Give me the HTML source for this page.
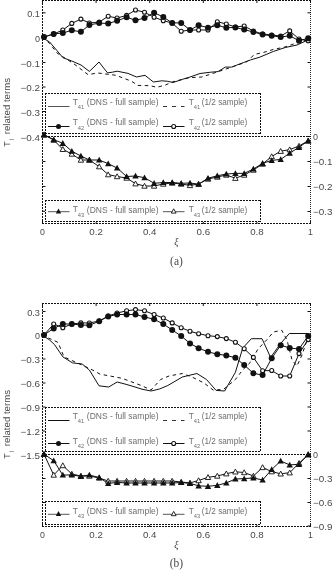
<!DOCTYPE html>
<html><head><meta charset="utf-8"><title>T_i related terms</title>
<style>
html,body{margin:0;padding:0;background:#fff;}
body{width:332px;height:570px;overflow:hidden;}
svg{display:block;font-family:"Liberation Sans",Arial,sans-serif;}
</style></head><body>
<svg width="332" height="570" viewBox="0 0 332 570">
<rect width="332" height="570" fill="#fff"/>
<line x1="42" y1="0.5" x2="311" y2="0.5" stroke="#111" stroke-width="1" stroke-dasharray="2 1"/><line x1="42" y1="223.5" x2="311" y2="223.5" stroke="#111" stroke-width="1" stroke-dasharray="2 1"/><line x1="42.5" y1="0" x2="42.5" y2="224" stroke="#111" stroke-width="1" stroke-dasharray="2 1"/><line x1="310.5" y1="0" x2="310.5" y2="224" stroke="#222" stroke-width="1" stroke-dasharray="1 1"/><line x1="42" y1="136.5" x2="311" y2="136.5" stroke="#111" stroke-width="1" stroke-dasharray="2 1"/><line x1="42.5" y1="12.8" x2="45.5" y2="12.8" stroke="#111" stroke-width="1"/><text x="40" y="16.8" text-anchor="end" font-size="9" fill="#4a4a4a" textLength="12.8" lengthAdjust="spacingAndGlyphs">0.1</text><line x1="42.5" y1="37.5" x2="45.5" y2="37.5" stroke="#111" stroke-width="1"/><text x="40" y="41.5" text-anchor="end" font-size="9" fill="#4a4a4a">0</text><line x1="42.5" y1="62.5" x2="45.5" y2="62.5" stroke="#111" stroke-width="1"/><text x="40" y="66.5" text-anchor="end" font-size="9" fill="#4a4a4a" textLength="19.5" lengthAdjust="spacingAndGlyphs">&#8722;0.1</text><line x1="42.5" y1="87" x2="45.5" y2="87" stroke="#111" stroke-width="1"/><text x="40" y="91" text-anchor="end" font-size="9" fill="#4a4a4a" textLength="19.5" lengthAdjust="spacingAndGlyphs">&#8722;0.2</text><line x1="42.5" y1="111.5" x2="45.5" y2="111.5" stroke="#111" stroke-width="1"/><text x="40" y="115.5" text-anchor="end" font-size="9" fill="#4a4a4a" textLength="19.5" lengthAdjust="spacingAndGlyphs">&#8722;0.3</text><line x1="42.5" y1="136.5" x2="45.5" y2="136.5" stroke="#111" stroke-width="1"/><text x="40" y="140.5" text-anchor="end" font-size="9" fill="#4a4a4a" textLength="19.5" lengthAdjust="spacingAndGlyphs">&#8722;0.4</text><line x1="42.5" y1="161.5" x2="45.5" y2="161.5" stroke="#111" stroke-width="1"/><line x1="42.5" y1="186.5" x2="45.5" y2="186.5" stroke="#111" stroke-width="1"/><line x1="42.5" y1="211.3" x2="45.5" y2="211.3" stroke="#111" stroke-width="1"/><line x1="307.5" y1="12.8" x2="310.5" y2="12.8" stroke="#111" stroke-width="1"/><line x1="307.5" y1="37.5" x2="310.5" y2="37.5" stroke="#111" stroke-width="1"/><line x1="307.5" y1="62.5" x2="310.5" y2="62.5" stroke="#111" stroke-width="1"/><line x1="307.5" y1="87" x2="310.5" y2="87" stroke="#111" stroke-width="1"/><line x1="307.5" y1="111.5" x2="310.5" y2="111.5" stroke="#111" stroke-width="1"/><line x1="307.5" y1="136.5" x2="310.5" y2="136.5" stroke="#111" stroke-width="1"/><text x="313" y="140.1" text-anchor="start" font-size="9" fill="#4a4a4a">0</text><line x1="307.5" y1="161.5" x2="310.5" y2="161.5" stroke="#111" stroke-width="1"/><text x="313" y="165.1" text-anchor="start" font-size="9" fill="#4a4a4a" textLength="19.5" lengthAdjust="spacingAndGlyphs">&#8722;0.1</text><line x1="307.5" y1="186.5" x2="310.5" y2="186.5" stroke="#111" stroke-width="1"/><text x="313" y="190.1" text-anchor="start" font-size="9" fill="#4a4a4a" textLength="19.5" lengthAdjust="spacingAndGlyphs">&#8722;0.2</text><line x1="307.5" y1="211.5" x2="310.5" y2="211.5" stroke="#111" stroke-width="1"/><text x="313" y="215.1" text-anchor="start" font-size="9" fill="#4a4a4a" textLength="19.5" lengthAdjust="spacingAndGlyphs">&#8722;0.3</text><line x1="42.5" y1="0" x2="42.5" y2="3" stroke="#111" stroke-width="1"/><line x1="42.5" y1="224" x2="42.5" y2="221" stroke="#111" stroke-width="1"/><text x="42.5" y="235.3" text-anchor="middle" font-size="8.8" fill="#4a4a4a">0</text><line x1="96.1" y1="0" x2="96.1" y2="3" stroke="#111" stroke-width="1"/><line x1="96.1" y1="224" x2="96.1" y2="221" stroke="#111" stroke-width="1"/><text x="96.1" y="235.3" text-anchor="middle" font-size="8.8" fill="#4a4a4a" textLength="13.5" lengthAdjust="spacingAndGlyphs">0.2</text><line x1="149.7" y1="0" x2="149.7" y2="3" stroke="#111" stroke-width="1"/><line x1="149.7" y1="224" x2="149.7" y2="221" stroke="#111" stroke-width="1"/><text x="149.7" y="235.3" text-anchor="middle" font-size="8.8" fill="#4a4a4a" textLength="13.5" lengthAdjust="spacingAndGlyphs">0.4</text><line x1="203.3" y1="0" x2="203.3" y2="3" stroke="#111" stroke-width="1"/><line x1="203.3" y1="224" x2="203.3" y2="221" stroke="#111" stroke-width="1"/><text x="203.3" y="235.3" text-anchor="middle" font-size="8.8" fill="#4a4a4a" textLength="13.5" lengthAdjust="spacingAndGlyphs">0.6</text><line x1="256.9" y1="0" x2="256.9" y2="3" stroke="#111" stroke-width="1"/><line x1="256.9" y1="224" x2="256.9" y2="221" stroke="#111" stroke-width="1"/><text x="256.9" y="235.3" text-anchor="middle" font-size="8.8" fill="#4a4a4a" textLength="13.5" lengthAdjust="spacingAndGlyphs">0.8</text><line x1="310.5" y1="0" x2="310.5" y2="3" stroke="#111" stroke-width="1"/><line x1="310.5" y1="224" x2="310.5" y2="221" stroke="#111" stroke-width="1"/><text x="310.5" y="235.3" text-anchor="middle" font-size="8.8" fill="#4a4a4a">1</text><text x="176.3" y="245.3" text-anchor="middle" font-size="10" fill="#4a4a4a" font-style="italic" font-family="Liberation Serif, serif">&#958;</text><text x="176.5" y="265" text-anchor="middle" font-size="11.5" fill="#4a4a4a" font-family="Liberation Serif, serif">(a)</text><g transform="translate(10,146.8) rotate(-90)" fill="#4a4a4a"><text x="0" y="0" font-size="8.9">T</text><text x="6.6" y="3.6" font-size="6.4">i</text><text x="12.6" y="0" font-size="8.6" textLength="56.2" lengthAdjust="spacingAndGlyphs">related terms</text></g><polyline points="42.0,37.5 49.6,42.0 56.9,50.5 62.9,57.7 71.3,60.8 81.0,65.0 89.4,71.4 99.0,62.0 107.5,72.9 112.3,72.2 117.2,71.2 128.0,73.4 136.5,77.0 145.0,75.3 153.4,82.0 161.8,80.8 167.8,81.3 173.0,82.5 182.3,79.4 190.0,77.0 200.0,73.5 210.8,72.2 218.0,71.6 225.3,67.1 231.6,67.1 236.2,65.3 243.4,62.6 250.6,59.9 259.7,57.2 273.5,51.4 285.3,47.5 297.0,45.0 308.0,40.0" fill="none" stroke="#111" stroke-width="1.0"/><polyline points="42.0,37.5 49.6,43.3 57.0,53.0 73.7,63.7 88.0,74.6 97.8,73.0 116.0,75.3 131.7,81.3 137.7,85.4 149.8,85.7 157.0,87.3 165.4,85.0 172.7,81.8 189.5,77.7 201.8,77.0 212.7,73.5 234.4,66.2 247.0,61.7 254.2,54.5 263.7,52.4 273.5,49.4 285.0,47.0 295.0,43.5 308.0,39.6" fill="none" stroke="#111" stroke-width="1.0" stroke-dasharray="3.5 3.5"/><polyline points="44.0,37.0 53.7,34.0 62.8,30.0 71.8,23.4 80.9,19.1 89.4,23.0 99.2,22.0 108.2,16.3 117.1,18.0 126.6,15.4 135.5,10.0 144.5,12.3 154.1,17.2 163.3,20.7 172.2,23.0 181.2,31.3 190.0,30.0 198.6,30.0 208.0,30.0 217.3,21.7 226.3,24.0 235.4,27.0 244.2,26.0 253.4,31.0 262.6,34.0 271.7,35.0 280.7,36.0 289.7,30.9 299.0,39.0 308.2,40.7" fill="none" stroke="#111" stroke-width="1.0"/><polyline points="44.0,37.0 53.7,33.9 62.8,33.0 71.8,30.3 80.9,31.8 89.4,24.9 99.2,23.1 108.2,23.5 117.1,20.8 126.6,17.2 135.5,20.3 144.5,18.0 154.1,12.7 163.3,17.0 172.2,22.9 181.2,22.9 190.0,30.0 198.6,25.3 208.0,27.7 217.3,25.3 226.3,27.7 235.4,27.5 244.2,29.6 253.4,32.0 262.6,34.6 271.7,35.8 280.7,37.0 289.7,35.8 299.0,40.7 308.2,38.3" fill="none" stroke="#111" stroke-width="1.0"/><circle cx="44.0" cy="37.0" r="2.0" fill="#fff" stroke="#111" stroke-width="1.1"/><circle cx="53.7" cy="34.0" r="2.0" fill="#fff" stroke="#111" stroke-width="1.1"/><circle cx="62.8" cy="30.0" r="2.0" fill="#fff" stroke="#111" stroke-width="1.1"/><circle cx="71.8" cy="23.4" r="2.0" fill="#fff" stroke="#111" stroke-width="1.1"/><circle cx="80.9" cy="19.1" r="2.0" fill="#fff" stroke="#111" stroke-width="1.1"/><circle cx="89.4" cy="23.0" r="2.0" fill="#fff" stroke="#111" stroke-width="1.1"/><circle cx="99.2" cy="22.0" r="2.0" fill="#fff" stroke="#111" stroke-width="1.1"/><circle cx="108.2" cy="16.3" r="2.0" fill="#fff" stroke="#111" stroke-width="1.1"/><circle cx="117.1" cy="18.0" r="2.0" fill="#fff" stroke="#111" stroke-width="1.1"/><circle cx="126.6" cy="15.4" r="2.0" fill="#fff" stroke="#111" stroke-width="1.1"/><circle cx="135.5" cy="10.0" r="2.0" fill="#fff" stroke="#111" stroke-width="1.1"/><circle cx="144.5" cy="12.3" r="2.0" fill="#fff" stroke="#111" stroke-width="1.1"/><circle cx="154.1" cy="17.2" r="2.0" fill="#fff" stroke="#111" stroke-width="1.1"/><circle cx="163.3" cy="20.7" r="2.0" fill="#fff" stroke="#111" stroke-width="1.1"/><circle cx="172.2" cy="23.0" r="2.0" fill="#fff" stroke="#111" stroke-width="1.1"/><circle cx="181.2" cy="31.3" r="2.0" fill="#fff" stroke="#111" stroke-width="1.1"/><circle cx="190.0" cy="30.0" r="2.0" fill="#fff" stroke="#111" stroke-width="1.1"/><circle cx="198.6" cy="30.0" r="2.0" fill="#fff" stroke="#111" stroke-width="1.1"/><circle cx="208.0" cy="30.0" r="2.0" fill="#fff" stroke="#111" stroke-width="1.1"/><circle cx="217.3" cy="21.7" r="2.0" fill="#fff" stroke="#111" stroke-width="1.1"/><circle cx="226.3" cy="24.0" r="2.0" fill="#fff" stroke="#111" stroke-width="1.1"/><circle cx="235.4" cy="27.0" r="2.0" fill="#fff" stroke="#111" stroke-width="1.1"/><circle cx="244.2" cy="26.0" r="2.0" fill="#fff" stroke="#111" stroke-width="1.1"/><circle cx="253.4" cy="31.0" r="2.0" fill="#fff" stroke="#111" stroke-width="1.1"/><circle cx="262.6" cy="34.0" r="2.0" fill="#fff" stroke="#111" stroke-width="1.1"/><circle cx="271.7" cy="35.0" r="2.0" fill="#fff" stroke="#111" stroke-width="1.1"/><circle cx="280.7" cy="36.0" r="2.0" fill="#fff" stroke="#111" stroke-width="1.1"/><circle cx="289.7" cy="30.9" r="2.0" fill="#fff" stroke="#111" stroke-width="1.1"/><circle cx="299.0" cy="39.0" r="2.0" fill="#fff" stroke="#111" stroke-width="1.1"/><circle cx="308.2" cy="40.7" r="2.0" fill="#fff" stroke="#111" stroke-width="1.1"/><circle cx="44.0" cy="37.0" r="3.0" fill="#111"/><circle cx="53.7" cy="33.9" r="3.0" fill="#111"/><circle cx="62.8" cy="33.0" r="3.0" fill="#111"/><circle cx="71.8" cy="30.3" r="3.0" fill="#111"/><circle cx="80.9" cy="31.8" r="3.0" fill="#111"/><circle cx="89.4" cy="24.9" r="3.0" fill="#111"/><circle cx="99.2" cy="23.1" r="3.0" fill="#111"/><circle cx="108.2" cy="23.5" r="3.0" fill="#111"/><circle cx="117.1" cy="20.8" r="3.0" fill="#111"/><circle cx="126.6" cy="17.2" r="3.0" fill="#111"/><circle cx="135.5" cy="20.3" r="3.0" fill="#111"/><circle cx="144.5" cy="18.0" r="3.0" fill="#111"/><circle cx="154.1" cy="12.7" r="3.0" fill="#111"/><circle cx="163.3" cy="17.0" r="3.0" fill="#111"/><circle cx="172.2" cy="22.9" r="3.0" fill="#111"/><circle cx="181.2" cy="22.9" r="3.0" fill="#111"/><circle cx="190.0" cy="30.0" r="3.0" fill="#111"/><circle cx="198.6" cy="25.3" r="3.0" fill="#111"/><circle cx="208.0" cy="27.7" r="3.0" fill="#111"/><circle cx="217.3" cy="25.3" r="3.0" fill="#111"/><circle cx="226.3" cy="27.7" r="3.0" fill="#111"/><circle cx="235.4" cy="27.5" r="3.0" fill="#111"/><circle cx="244.2" cy="29.6" r="3.0" fill="#111"/><circle cx="253.4" cy="32.0" r="3.0" fill="#111"/><circle cx="262.6" cy="34.6" r="3.0" fill="#111"/><circle cx="271.7" cy="35.8" r="3.0" fill="#111"/><circle cx="280.7" cy="37.0" r="3.0" fill="#111"/><circle cx="289.7" cy="35.8" r="3.0" fill="#111"/><circle cx="299.0" cy="40.7" r="3.0" fill="#111"/><circle cx="308.2" cy="38.3" r="3.0" fill="#111"/><polyline points="44.0,134.8 53.7,140.0 62.8,149.3 71.8,154.0 80.9,160.0 89.4,160.0 99.2,166.6 108.2,174.6 117.1,176.5 126.6,178.0 135.5,183.7 144.5,186.0 154.1,186.0 163.3,184.0 172.2,183.0 181.2,184.0 190.0,185.4 198.6,184.0 208.0,179.0 217.3,177.0 226.3,175.0 235.4,178.2 244.2,175.0 253.4,170.0 262.6,164.0 271.7,156.5 280.7,151.2 289.7,149.6 299.0,146.0 308.2,140.8" fill="none" stroke="#111" stroke-width="1.0"/><polyline points="44.0,134.8 53.7,139.6 62.8,143.3 71.8,151.2 80.9,156.0 89.4,160.0 99.2,160.0 108.2,163.7 117.1,168.0 126.6,176.5 135.5,176.0 144.5,177.7 154.1,183.3 163.3,182.5 172.2,182.5 181.2,183.3 190.0,183.0 198.6,184.2 208.0,178.2 217.3,175.8 226.3,174.0 235.4,173.4 244.2,173.4 253.4,169.0 262.6,163.3 271.7,160.4 280.7,159.4 289.7,153.1 299.0,147.3 308.2,140.8" fill="none" stroke="#111" stroke-width="1.0"/><polygon points="44.0,132.1 46.7,137.0 41.3,137.0" fill="#fff" stroke="#111" stroke-width="0.9"/><polygon points="53.7,137.3 56.4,142.2 51.0,142.2" fill="#fff" stroke="#111" stroke-width="0.9"/><polygon points="62.8,146.6 65.5,151.5 60.1,151.5" fill="#fff" stroke="#111" stroke-width="0.9"/><polygon points="71.8,151.3 74.5,156.2 69.1,156.2" fill="#fff" stroke="#111" stroke-width="0.9"/><polygon points="80.9,157.3 83.6,162.2 78.2,162.2" fill="#fff" stroke="#111" stroke-width="0.9"/><polygon points="89.4,157.3 92.1,162.2 86.7,162.2" fill="#fff" stroke="#111" stroke-width="0.9"/><polygon points="99.2,163.9 101.9,168.8 96.5,168.8" fill="#fff" stroke="#111" stroke-width="0.9"/><polygon points="108.2,171.9 110.9,176.8 105.5,176.8" fill="#fff" stroke="#111" stroke-width="0.9"/><polygon points="117.1,173.8 119.8,178.7 114.4,178.7" fill="#fff" stroke="#111" stroke-width="0.9"/><polygon points="126.6,175.3 129.3,180.2 123.9,180.2" fill="#fff" stroke="#111" stroke-width="0.9"/><polygon points="135.5,181.0 138.2,185.9 132.8,185.9" fill="#fff" stroke="#111" stroke-width="0.9"/><polygon points="144.5,183.3 147.2,188.2 141.8,188.2" fill="#fff" stroke="#111" stroke-width="0.9"/><polygon points="154.1,183.3 156.8,188.2 151.4,188.2" fill="#fff" stroke="#111" stroke-width="0.9"/><polygon points="163.3,181.3 166.0,186.2 160.6,186.2" fill="#fff" stroke="#111" stroke-width="0.9"/><polygon points="172.2,180.3 174.9,185.2 169.5,185.2" fill="#fff" stroke="#111" stroke-width="0.9"/><polygon points="181.2,181.3 183.9,186.2 178.5,186.2" fill="#fff" stroke="#111" stroke-width="0.9"/><polygon points="190.0,182.7 192.7,187.6 187.3,187.6" fill="#fff" stroke="#111" stroke-width="0.9"/><polygon points="198.6,181.3 201.3,186.2 195.9,186.2" fill="#fff" stroke="#111" stroke-width="0.9"/><polygon points="208.0,176.3 210.7,181.2 205.3,181.2" fill="#fff" stroke="#111" stroke-width="0.9"/><polygon points="217.3,174.3 220.0,179.2 214.6,179.2" fill="#fff" stroke="#111" stroke-width="0.9"/><polygon points="226.3,172.3 229.0,177.2 223.6,177.2" fill="#fff" stroke="#111" stroke-width="0.9"/><polygon points="235.4,175.5 238.1,180.4 232.7,180.4" fill="#fff" stroke="#111" stroke-width="0.9"/><polygon points="244.2,172.3 246.9,177.2 241.5,177.2" fill="#fff" stroke="#111" stroke-width="0.9"/><polygon points="253.4,167.3 256.1,172.2 250.7,172.2" fill="#fff" stroke="#111" stroke-width="0.9"/><polygon points="262.6,161.3 265.3,166.2 259.9,166.2" fill="#fff" stroke="#111" stroke-width="0.9"/><polygon points="271.7,153.8 274.4,158.7 269.0,158.7" fill="#fff" stroke="#111" stroke-width="0.9"/><polygon points="280.7,148.5 283.4,153.4 278.0,153.4" fill="#fff" stroke="#111" stroke-width="0.9"/><polygon points="289.7,146.9 292.4,151.8 287.0,151.8" fill="#fff" stroke="#111" stroke-width="0.9"/><polygon points="299.0,143.3 301.7,148.2 296.3,148.2" fill="#fff" stroke="#111" stroke-width="0.9"/><polygon points="308.2,138.1 310.9,143.0 305.5,143.0" fill="#fff" stroke="#111" stroke-width="0.9"/><polygon points="44.0,131.6 47.2,137.4 40.8,137.4" fill="#111"/><polygon points="53.7,136.4 56.9,142.2 50.5,142.2" fill="#111"/><polygon points="62.8,140.1 66.0,145.9 59.6,145.9" fill="#111"/><polygon points="71.8,148.0 75.0,153.8 68.6,153.8" fill="#111"/><polygon points="80.9,152.8 84.1,158.6 77.7,158.6" fill="#111"/><polygon points="89.4,156.8 92.6,162.6 86.2,162.6" fill="#111"/><polygon points="99.2,156.8 102.4,162.6 96.0,162.6" fill="#111"/><polygon points="108.2,160.5 111.4,166.3 105.0,166.3" fill="#111"/><polygon points="117.1,164.8 120.3,170.6 113.9,170.6" fill="#111"/><polygon points="126.6,173.3 129.8,179.1 123.4,179.1" fill="#111"/><polygon points="135.5,172.8 138.7,178.6 132.3,178.6" fill="#111"/><polygon points="144.5,174.5 147.7,180.3 141.3,180.3" fill="#111"/><polygon points="154.1,180.1 157.3,185.9 150.9,185.9" fill="#111"/><polygon points="163.3,179.3 166.5,185.1 160.1,185.1" fill="#111"/><polygon points="172.2,179.3 175.4,185.1 169.0,185.1" fill="#111"/><polygon points="181.2,180.1 184.4,185.9 178.0,185.9" fill="#111"/><polygon points="190.0,179.8 193.2,185.6 186.8,185.6" fill="#111"/><polygon points="198.6,181.0 201.8,186.8 195.4,186.8" fill="#111"/><polygon points="208.0,175.0 211.2,180.8 204.8,180.8" fill="#111"/><polygon points="217.3,172.6 220.5,178.4 214.1,178.4" fill="#111"/><polygon points="226.3,170.8 229.5,176.6 223.1,176.6" fill="#111"/><polygon points="235.4,170.2 238.6,176.0 232.2,176.0" fill="#111"/><polygon points="244.2,170.2 247.4,176.0 241.0,176.0" fill="#111"/><polygon points="253.4,165.8 256.6,171.6 250.2,171.6" fill="#111"/><polygon points="262.6,160.1 265.8,165.9 259.4,165.9" fill="#111"/><polygon points="271.7,157.2 274.9,163.0 268.5,163.0" fill="#111"/><polygon points="280.7,156.2 283.9,162.0 277.5,162.0" fill="#111"/><polygon points="289.7,149.9 292.9,155.7 286.5,155.7" fill="#111"/><polygon points="299.0,144.1 302.2,149.9 295.8,149.9" fill="#111"/><polygon points="308.2,137.6 311.4,143.4 305.0,143.4" fill="#111"/><rect x="45" y="93" width="216" height="41" fill="#fff"/><line x1="45" y1="93.5" x2="261" y2="93.5" stroke="#111" stroke-width="1" stroke-dasharray="2 1"/><line x1="45" y1="133.5" x2="261" y2="133.5" stroke="#111" stroke-width="1" stroke-dasharray="2 1"/><line x1="45.5" y1="93" x2="45.5" y2="134" stroke="#111" stroke-width="1" stroke-dasharray="2 1"/><line x1="260.5" y1="93" x2="260.5" y2="134" stroke="#111" stroke-width="1" stroke-dasharray="2 1"/><line x1="48" y1="106.5" x2="69.5" y2="106.5" stroke="#555" stroke-width="1"/><text x="72.8" y="104.9" font-size="8.4" fill="#6e6e6e">T</text><text x="77.8" y="109.4" font-size="5.8" fill="#6e6e6e" textLength="6.4" lengthAdjust="spacingAndGlyphs">41</text><text x="86.8" y="105.2" font-size="8.6" fill="#6e6e6e" textLength="71.8" lengthAdjust="spacingAndGlyphs">(DNS - full sample)</text><line x1="163" y1="106.5" x2="184.5" y2="106.5" stroke="#333" stroke-width="1" stroke-dasharray="4 5"/><text x="188.7" y="104.9" font-size="8.4" fill="#6e6e6e">T</text><text x="193.7" y="109.4" font-size="5.8" fill="#6e6e6e" textLength="6.4" lengthAdjust="spacingAndGlyphs">41</text><text x="201.8" y="105.2" font-size="8.6" fill="#6e6e6e" textLength="45.5" lengthAdjust="spacingAndGlyphs">(1/2 sample)</text><line x1="48" y1="126.5" x2="69.5" y2="126.5" stroke="#111" stroke-width="1"/><circle cx="58.5" cy="126.5" r="2.5" fill="#111"/><text x="72.8" y="125.10000000000001" font-size="8.4" fill="#6e6e6e">T</text><text x="77.8" y="129.6" font-size="5.8" fill="#6e6e6e" textLength="6.4" lengthAdjust="spacingAndGlyphs">42</text><text x="86.8" y="125.4" font-size="8.6" fill="#6e6e6e" textLength="71.8" lengthAdjust="spacingAndGlyphs">(DNS - full sample)</text><line x1="163" y1="126.5" x2="184.5" y2="126.5" stroke="#111" stroke-width="1"/><circle cx="173.7" cy="126.5" r="2.0" fill="#fff" stroke="#111" stroke-width="1.1"/><text x="188.7" y="125.10000000000001" font-size="8.4" fill="#6e6e6e">T</text><text x="193.7" y="129.6" font-size="5.8" fill="#6e6e6e" textLength="6.4" lengthAdjust="spacingAndGlyphs">42</text><text x="201.8" y="125.4" font-size="8.6" fill="#6e6e6e" textLength="45.5" lengthAdjust="spacingAndGlyphs">(1/2 sample)</text><rect x="45" y="200" width="216" height="22" fill="#fff"/><line x1="45" y1="200.5" x2="261" y2="200.5" stroke="#111" stroke-width="1" stroke-dasharray="2 1"/><line x1="45" y1="221.5" x2="261" y2="221.5" stroke="#111" stroke-width="1" stroke-dasharray="2 1"/><line x1="45.5" y1="200" x2="45.5" y2="222" stroke="#111" stroke-width="1" stroke-dasharray="2 1"/><line x1="260.5" y1="200" x2="260.5" y2="222" stroke="#111" stroke-width="1" stroke-dasharray="2 1"/><line x1="48" y1="211.7" x2="69.5" y2="211.7" stroke="#555" stroke-width="1"/><polygon points="58.5,208.5 61.2,213.4 55.8,213.4" fill="#111"/><text x="72.8" y="212.2" font-size="8.4" fill="#6e6e6e">T</text><text x="77.8" y="216.7" font-size="5.8" fill="#6e6e6e" textLength="6.4" lengthAdjust="spacingAndGlyphs">43</text><text x="86.8" y="212.5" font-size="8.6" fill="#6e6e6e" textLength="71.8" lengthAdjust="spacingAndGlyphs">(DNS - full sample)</text><line x1="163" y1="211.7" x2="184.5" y2="211.7" stroke="#555" stroke-width="1"/><polygon points="173.7,208.8 176.1,213.1 171.3,213.1" fill="#fff" stroke="#111" stroke-width="0.9"/><text x="188.7" y="212.2" font-size="8.4" fill="#6e6e6e">T</text><text x="193.7" y="216.7" font-size="5.8" fill="#6e6e6e" textLength="6.4" lengthAdjust="spacingAndGlyphs">43</text><text x="201.8" y="212.5" font-size="8.6" fill="#6e6e6e" textLength="45.5" lengthAdjust="spacingAndGlyphs">(1/2 sample)</text><line x1="42" y1="303.5" x2="311" y2="303.5" stroke="#111" stroke-width="1" stroke-dasharray="2 1"/><line x1="42" y1="526.5" x2="311" y2="526.5" stroke="#111" stroke-width="1" stroke-dasharray="2 1"/><line x1="42.5" y1="303" x2="42.5" y2="527" stroke="#111" stroke-width="1" stroke-dasharray="2 1"/><line x1="310.5" y1="303" x2="310.5" y2="527" stroke="#222" stroke-width="1" stroke-dasharray="1 1"/><line x1="42" y1="454.5" x2="311" y2="454.5" stroke="#111" stroke-width="1" stroke-dasharray="2 1"/><line x1="42.5" y1="311.5" x2="45.5" y2="311.5" stroke="#111" stroke-width="1"/><text x="40" y="315.5" text-anchor="end" font-size="9" fill="#4a4a4a" textLength="12.8" lengthAdjust="spacingAndGlyphs">0.3</text><line x1="42.5" y1="335" x2="45.5" y2="335" stroke="#111" stroke-width="1"/><text x="40" y="339" text-anchor="end" font-size="9" fill="#4a4a4a">0</text><line x1="42.5" y1="359" x2="45.5" y2="359" stroke="#111" stroke-width="1"/><text x="40" y="363" text-anchor="end" font-size="9" fill="#4a4a4a" textLength="19.5" lengthAdjust="spacingAndGlyphs">&#8722;0.3</text><line x1="42.5" y1="383" x2="45.5" y2="383" stroke="#111" stroke-width="1"/><text x="40" y="387" text-anchor="end" font-size="9" fill="#4a4a4a" textLength="19.5" lengthAdjust="spacingAndGlyphs">&#8722;0.6</text><line x1="42.5" y1="407" x2="45.5" y2="407" stroke="#111" stroke-width="1"/><text x="40" y="411" text-anchor="end" font-size="9" fill="#4a4a4a" textLength="19.5" lengthAdjust="spacingAndGlyphs">&#8722;0.9</text><line x1="42.5" y1="431" x2="45.5" y2="431" stroke="#111" stroke-width="1"/><text x="40" y="435" text-anchor="end" font-size="9" fill="#4a4a4a" textLength="19.5" lengthAdjust="spacingAndGlyphs">&#8722;1.2</text><line x1="42.5" y1="454.5" x2="45.5" y2="454.5" stroke="#111" stroke-width="1"/><text x="40" y="458.5" text-anchor="end" font-size="9" fill="#4a4a4a" textLength="19.5" lengthAdjust="spacingAndGlyphs">&#8722;1.5</text><line x1="42.5" y1="478.5" x2="45.5" y2="478.5" stroke="#111" stroke-width="1"/><line x1="42.5" y1="502.5" x2="45.5" y2="502.5" stroke="#111" stroke-width="1"/><line x1="307.5" y1="311.5" x2="310.5" y2="311.5" stroke="#111" stroke-width="1"/><line x1="307.5" y1="335" x2="310.5" y2="335" stroke="#111" stroke-width="1"/><line x1="307.5" y1="359" x2="310.5" y2="359" stroke="#111" stroke-width="1"/><line x1="307.5" y1="383" x2="310.5" y2="383" stroke="#111" stroke-width="1"/><line x1="307.5" y1="407" x2="310.5" y2="407" stroke="#111" stroke-width="1"/><line x1="307.5" y1="431" x2="310.5" y2="431" stroke="#111" stroke-width="1"/><line x1="307.5" y1="454.5" x2="310.5" y2="454.5" stroke="#111" stroke-width="1"/><text x="313" y="458.1" text-anchor="start" font-size="9" fill="#4a4a4a">0</text><line x1="307.5" y1="478.5" x2="310.5" y2="478.5" stroke="#111" stroke-width="1"/><text x="313" y="482.1" text-anchor="start" font-size="9" fill="#4a4a4a" textLength="19.5" lengthAdjust="spacingAndGlyphs">&#8722;0.3</text><line x1="307.5" y1="502.5" x2="310.5" y2="502.5" stroke="#111" stroke-width="1"/><text x="313" y="506.1" text-anchor="start" font-size="9" fill="#4a4a4a" textLength="19.5" lengthAdjust="spacingAndGlyphs">&#8722;0.6</text><line x1="307.5" y1="526" x2="310.5" y2="526" stroke="#111" stroke-width="1"/><text x="313" y="529.6" text-anchor="start" font-size="9" fill="#4a4a4a" textLength="19.5" lengthAdjust="spacingAndGlyphs">&#8722;0.9</text><line x1="42.5" y1="303" x2="42.5" y2="306" stroke="#111" stroke-width="1"/><line x1="42.5" y1="527" x2="42.5" y2="524" stroke="#111" stroke-width="1"/><text x="42.5" y="538.3" text-anchor="middle" font-size="8.8" fill="#4a4a4a">0</text><line x1="96.1" y1="303" x2="96.1" y2="306" stroke="#111" stroke-width="1"/><line x1="96.1" y1="527" x2="96.1" y2="524" stroke="#111" stroke-width="1"/><text x="96.1" y="538.3" text-anchor="middle" font-size="8.8" fill="#4a4a4a" textLength="13.5" lengthAdjust="spacingAndGlyphs">0.2</text><line x1="149.7" y1="303" x2="149.7" y2="306" stroke="#111" stroke-width="1"/><line x1="149.7" y1="527" x2="149.7" y2="524" stroke="#111" stroke-width="1"/><text x="149.7" y="538.3" text-anchor="middle" font-size="8.8" fill="#4a4a4a" textLength="13.5" lengthAdjust="spacingAndGlyphs">0.4</text><line x1="203.3" y1="303" x2="203.3" y2="306" stroke="#111" stroke-width="1"/><line x1="203.3" y1="527" x2="203.3" y2="524" stroke="#111" stroke-width="1"/><text x="203.3" y="538.3" text-anchor="middle" font-size="8.8" fill="#4a4a4a" textLength="13.5" lengthAdjust="spacingAndGlyphs">0.6</text><line x1="256.9" y1="303" x2="256.9" y2="306" stroke="#111" stroke-width="1"/><line x1="256.9" y1="527" x2="256.9" y2="524" stroke="#111" stroke-width="1"/><text x="256.9" y="538.3" text-anchor="middle" font-size="8.8" fill="#4a4a4a" textLength="13.5" lengthAdjust="spacingAndGlyphs">0.8</text><line x1="310.5" y1="303" x2="310.5" y2="306" stroke="#111" stroke-width="1"/><line x1="310.5" y1="527" x2="310.5" y2="524" stroke="#111" stroke-width="1"/><text x="310.5" y="538.3" text-anchor="middle" font-size="8.8" fill="#4a4a4a">1</text><text x="176.3" y="548.3" text-anchor="middle" font-size="10" fill="#4a4a4a" font-style="italic" font-family="Liberation Serif, serif">&#958;</text><text x="176.5" y="567.3" text-anchor="middle" font-size="11.5" fill="#4a4a4a" font-family="Liberation Serif, serif">(b)</text><g transform="translate(10,458.8) rotate(-90)" fill="#4a4a4a"><text x="0" y="0" font-size="8.9">T</text><text x="6.6" y="3.6" font-size="6.4">i</text><text x="12.6" y="0" font-size="8.6" textLength="56.2" lengthAdjust="spacingAndGlyphs">related terms</text></g><polyline points="42.0,335.0 49.6,340.0 54.5,344.6 62.9,356.9 72.5,362.9 82.2,364.0 89.4,370.0 99.0,385.8 108.7,387.0 117.2,382.0 126.0,384.3 134.0,386.7 142.0,389.2 151.0,391.0 159.5,389.0 167.8,385.5 175.0,381.3 182.3,377.0 196.9,373.5 206.5,379.5 216.1,390.4 224.6,391.0 235.4,372.3 242.7,348.2 251.3,338.7 262.0,338.7 270.6,357.4 280.0,344.3 289.3,333.5 308.0,333.5" fill="none" stroke="#111" stroke-width="1.0"/><polyline points="42.0,335.0 58.0,342.4 64.0,356.9 90.6,369.0 100.2,374.2 110.0,376.0 122.0,378.3 141.3,385.5 151.0,390.0 160.6,379.5 169.0,376.0 182.3,373.5 192.0,377.0 204.0,383.0 213.7,390.4 224.0,389.0 235.4,379.5 242.7,369.9 250.0,362.7 258.0,349.0 267.8,338.7 273.4,332.0 281.8,330.3 287.0,340.0 292.0,360.0 297.0,366.0 302.0,355.0 308.0,337.0" fill="none" stroke="#111" stroke-width="1.0" stroke-dasharray="3.5 3.5"/><polyline points="44.0,335.0 53.7,324.0 62.8,327.7 71.8,324.0 80.9,322.9 89.4,323.0 99.2,321.0 108.2,316.0 117.1,313.0 126.6,310.8 135.5,309.6 144.5,310.8 154.1,314.5 163.3,318.0 172.2,322.9 181.2,327.7 190.0,331.3 198.6,333.7 208.0,335.7 217.3,336.6 226.3,338.6 235.4,342.2 244.2,348.8 253.4,357.4 262.6,370.8 271.7,370.5 280.7,376.0 289.7,376.0 299.0,353.6 308.2,339.6" fill="none" stroke="#111" stroke-width="1.0"/><polyline points="44.0,335.0 53.7,328.4 62.8,324.0 71.8,324.0 80.9,325.0 89.4,325.3 99.2,321.2 108.2,316.4 117.1,314.5 126.6,314.5 135.5,314.5 144.5,316.9 154.1,319.3 163.3,324.0 172.2,330.0 181.2,336.0 190.0,343.4 198.6,348.2 208.0,351.8 217.3,354.2 226.3,355.4 235.4,357.8 244.2,365.0 253.4,373.3 262.6,375.1 271.7,358.3 280.7,345.2 289.7,348.0 299.0,349.0 308.2,335.9" fill="none" stroke="#111" stroke-width="1.0"/><circle cx="44.0" cy="335.0" r="2.0" fill="#fff" stroke="#111" stroke-width="1.1"/><circle cx="53.7" cy="324.0" r="2.0" fill="#fff" stroke="#111" stroke-width="1.1"/><circle cx="62.8" cy="327.7" r="2.0" fill="#fff" stroke="#111" stroke-width="1.1"/><circle cx="71.8" cy="324.0" r="2.0" fill="#fff" stroke="#111" stroke-width="1.1"/><circle cx="80.9" cy="322.9" r="2.0" fill="#fff" stroke="#111" stroke-width="1.1"/><circle cx="89.4" cy="323.0" r="2.0" fill="#fff" stroke="#111" stroke-width="1.1"/><circle cx="99.2" cy="321.0" r="2.0" fill="#fff" stroke="#111" stroke-width="1.1"/><circle cx="108.2" cy="316.0" r="2.0" fill="#fff" stroke="#111" stroke-width="1.1"/><circle cx="117.1" cy="313.0" r="2.0" fill="#fff" stroke="#111" stroke-width="1.1"/><circle cx="126.6" cy="310.8" r="2.0" fill="#fff" stroke="#111" stroke-width="1.1"/><circle cx="135.5" cy="309.6" r="2.0" fill="#fff" stroke="#111" stroke-width="1.1"/><circle cx="144.5" cy="310.8" r="2.0" fill="#fff" stroke="#111" stroke-width="1.1"/><circle cx="154.1" cy="314.5" r="2.0" fill="#fff" stroke="#111" stroke-width="1.1"/><circle cx="163.3" cy="318.0" r="2.0" fill="#fff" stroke="#111" stroke-width="1.1"/><circle cx="172.2" cy="322.9" r="2.0" fill="#fff" stroke="#111" stroke-width="1.1"/><circle cx="181.2" cy="327.7" r="2.0" fill="#fff" stroke="#111" stroke-width="1.1"/><circle cx="190.0" cy="331.3" r="2.0" fill="#fff" stroke="#111" stroke-width="1.1"/><circle cx="198.6" cy="333.7" r="2.0" fill="#fff" stroke="#111" stroke-width="1.1"/><circle cx="208.0" cy="335.7" r="2.0" fill="#fff" stroke="#111" stroke-width="1.1"/><circle cx="217.3" cy="336.6" r="2.0" fill="#fff" stroke="#111" stroke-width="1.1"/><circle cx="226.3" cy="338.6" r="2.0" fill="#fff" stroke="#111" stroke-width="1.1"/><circle cx="235.4" cy="342.2" r="2.0" fill="#fff" stroke="#111" stroke-width="1.1"/><circle cx="244.2" cy="348.8" r="2.0" fill="#fff" stroke="#111" stroke-width="1.1"/><circle cx="253.4" cy="357.4" r="2.0" fill="#fff" stroke="#111" stroke-width="1.1"/><circle cx="262.6" cy="370.8" r="2.0" fill="#fff" stroke="#111" stroke-width="1.1"/><circle cx="271.7" cy="370.5" r="2.0" fill="#fff" stroke="#111" stroke-width="1.1"/><circle cx="280.7" cy="376.0" r="2.0" fill="#fff" stroke="#111" stroke-width="1.1"/><circle cx="289.7" cy="376.0" r="2.0" fill="#fff" stroke="#111" stroke-width="1.1"/><circle cx="299.0" cy="353.6" r="2.0" fill="#fff" stroke="#111" stroke-width="1.1"/><circle cx="308.2" cy="339.6" r="2.0" fill="#fff" stroke="#111" stroke-width="1.1"/><circle cx="44.0" cy="335.0" r="3.0" fill="#111"/><circle cx="53.7" cy="328.4" r="3.0" fill="#111"/><circle cx="62.8" cy="324.0" r="3.0" fill="#111"/><circle cx="71.8" cy="324.0" r="3.0" fill="#111"/><circle cx="80.9" cy="325.0" r="3.0" fill="#111"/><circle cx="89.4" cy="325.3" r="3.0" fill="#111"/><circle cx="99.2" cy="321.2" r="3.0" fill="#111"/><circle cx="108.2" cy="316.4" r="3.0" fill="#111"/><circle cx="117.1" cy="314.5" r="3.0" fill="#111"/><circle cx="126.6" cy="314.5" r="3.0" fill="#111"/><circle cx="135.5" cy="314.5" r="3.0" fill="#111"/><circle cx="144.5" cy="316.9" r="3.0" fill="#111"/><circle cx="154.1" cy="319.3" r="3.0" fill="#111"/><circle cx="163.3" cy="324.0" r="3.0" fill="#111"/><circle cx="172.2" cy="330.0" r="3.0" fill="#111"/><circle cx="181.2" cy="336.0" r="3.0" fill="#111"/><circle cx="190.0" cy="343.4" r="3.0" fill="#111"/><circle cx="198.6" cy="348.2" r="3.0" fill="#111"/><circle cx="208.0" cy="351.8" r="3.0" fill="#111"/><circle cx="217.3" cy="354.2" r="3.0" fill="#111"/><circle cx="226.3" cy="355.4" r="3.0" fill="#111"/><circle cx="235.4" cy="357.8" r="3.0" fill="#111"/><circle cx="244.2" cy="365.0" r="3.0" fill="#111"/><circle cx="253.4" cy="373.3" r="3.0" fill="#111"/><circle cx="262.6" cy="375.1" r="3.0" fill="#111"/><circle cx="271.7" cy="358.3" r="3.0" fill="#111"/><circle cx="280.7" cy="345.2" r="3.0" fill="#111"/><circle cx="289.7" cy="348.0" r="3.0" fill="#111"/><circle cx="299.0" cy="349.0" r="3.0" fill="#111"/><circle cx="308.2" cy="335.9" r="3.0" fill="#111"/><polyline points="44.0,454.2 53.7,475.0 62.8,465.5 71.8,474.0 80.9,476.0 89.4,476.0 99.2,478.0 108.2,481.0 117.1,481.0 126.6,481.0 135.5,481.0 144.5,481.0 154.1,481.0 163.3,481.0 172.2,481.0 181.2,482.0 190.0,482.9 198.6,480.5 208.0,477.3 217.3,476.0 226.3,473.7 235.4,471.8 244.2,472.5 253.4,476.0 262.6,467.4 271.7,471.6 280.7,473.8 289.7,472.7 299.0,463.2 308.2,454.8" fill="none" stroke="#111" stroke-width="1.0"/><polyline points="44.0,454.2 53.7,460.7 62.8,475.0 71.8,475.0 80.9,476.3 89.4,475.0 99.2,477.5 108.2,483.5 117.1,482.3 126.6,483.0 135.5,483.0 144.5,483.0 154.1,483.0 163.3,483.0 172.2,483.0 181.2,482.5 190.0,483.4 198.6,485.8 208.0,486.3 217.3,485.3 226.3,482.9 235.4,479.0 244.2,478.6 253.4,478.0 262.6,480.0 271.7,469.5 280.7,461.0 289.7,464.9 299.0,464.3 308.2,454.3" fill="none" stroke="#111" stroke-width="1.0"/><polygon points="44.0,451.5 46.7,456.4 41.3,456.4" fill="#fff" stroke="#111" stroke-width="0.9"/><polygon points="53.7,472.3 56.4,477.2 51.0,477.2" fill="#fff" stroke="#111" stroke-width="0.9"/><polygon points="62.8,462.8 65.5,467.7 60.1,467.7" fill="#fff" stroke="#111" stroke-width="0.9"/><polygon points="71.8,471.3 74.5,476.2 69.1,476.2" fill="#fff" stroke="#111" stroke-width="0.9"/><polygon points="80.9,473.3 83.6,478.2 78.2,478.2" fill="#fff" stroke="#111" stroke-width="0.9"/><polygon points="89.4,473.3 92.1,478.2 86.7,478.2" fill="#fff" stroke="#111" stroke-width="0.9"/><polygon points="99.2,475.3 101.9,480.2 96.5,480.2" fill="#fff" stroke="#111" stroke-width="0.9"/><polygon points="108.2,478.3 110.9,483.2 105.5,483.2" fill="#fff" stroke="#111" stroke-width="0.9"/><polygon points="117.1,478.3 119.8,483.2 114.4,483.2" fill="#fff" stroke="#111" stroke-width="0.9"/><polygon points="126.6,478.3 129.3,483.2 123.9,483.2" fill="#fff" stroke="#111" stroke-width="0.9"/><polygon points="135.5,478.3 138.2,483.2 132.8,483.2" fill="#fff" stroke="#111" stroke-width="0.9"/><polygon points="144.5,478.3 147.2,483.2 141.8,483.2" fill="#fff" stroke="#111" stroke-width="0.9"/><polygon points="154.1,478.3 156.8,483.2 151.4,483.2" fill="#fff" stroke="#111" stroke-width="0.9"/><polygon points="163.3,478.3 166.0,483.2 160.6,483.2" fill="#fff" stroke="#111" stroke-width="0.9"/><polygon points="172.2,478.3 174.9,483.2 169.5,483.2" fill="#fff" stroke="#111" stroke-width="0.9"/><polygon points="181.2,479.3 183.9,484.2 178.5,484.2" fill="#fff" stroke="#111" stroke-width="0.9"/><polygon points="190.0,480.2 192.7,485.1 187.3,485.1" fill="#fff" stroke="#111" stroke-width="0.9"/><polygon points="198.6,477.8 201.3,482.7 195.9,482.7" fill="#fff" stroke="#111" stroke-width="0.9"/><polygon points="208.0,474.6 210.7,479.5 205.3,479.5" fill="#fff" stroke="#111" stroke-width="0.9"/><polygon points="217.3,473.3 220.0,478.2 214.6,478.2" fill="#fff" stroke="#111" stroke-width="0.9"/><polygon points="226.3,471.0 229.0,475.9 223.6,475.9" fill="#fff" stroke="#111" stroke-width="0.9"/><polygon points="235.4,469.1 238.1,474.0 232.7,474.0" fill="#fff" stroke="#111" stroke-width="0.9"/><polygon points="244.2,469.8 246.9,474.7 241.5,474.7" fill="#fff" stroke="#111" stroke-width="0.9"/><polygon points="253.4,473.3 256.1,478.2 250.7,478.2" fill="#fff" stroke="#111" stroke-width="0.9"/><polygon points="262.6,464.7 265.3,469.6 259.9,469.6" fill="#fff" stroke="#111" stroke-width="0.9"/><polygon points="271.7,468.9 274.4,473.8 269.0,473.8" fill="#fff" stroke="#111" stroke-width="0.9"/><polygon points="280.7,471.1 283.4,476.0 278.0,476.0" fill="#fff" stroke="#111" stroke-width="0.9"/><polygon points="289.7,470.0 292.4,474.9 287.0,474.9" fill="#fff" stroke="#111" stroke-width="0.9"/><polygon points="299.0,460.5 301.7,465.4 296.3,465.4" fill="#fff" stroke="#111" stroke-width="0.9"/><polygon points="308.2,452.1 310.9,457.0 305.5,457.0" fill="#fff" stroke="#111" stroke-width="0.9"/><polygon points="44.0,451.0 47.2,456.8 40.8,456.8" fill="#111"/><polygon points="53.7,457.5 56.9,463.3 50.5,463.3" fill="#111"/><polygon points="62.8,471.8 66.0,477.6 59.6,477.6" fill="#111"/><polygon points="71.8,471.8 75.0,477.6 68.6,477.6" fill="#111"/><polygon points="80.9,473.1 84.1,478.9 77.7,478.9" fill="#111"/><polygon points="89.4,471.8 92.6,477.6 86.2,477.6" fill="#111"/><polygon points="99.2,474.3 102.4,480.1 96.0,480.1" fill="#111"/><polygon points="108.2,480.3 111.4,486.1 105.0,486.1" fill="#111"/><polygon points="117.1,479.1 120.3,484.9 113.9,484.9" fill="#111"/><polygon points="126.6,479.8 129.8,485.6 123.4,485.6" fill="#111"/><polygon points="135.5,479.8 138.7,485.6 132.3,485.6" fill="#111"/><polygon points="144.5,479.8 147.7,485.6 141.3,485.6" fill="#111"/><polygon points="154.1,479.8 157.3,485.6 150.9,485.6" fill="#111"/><polygon points="163.3,479.8 166.5,485.6 160.1,485.6" fill="#111"/><polygon points="172.2,479.8 175.4,485.6 169.0,485.6" fill="#111"/><polygon points="181.2,479.3 184.4,485.1 178.0,485.1" fill="#111"/><polygon points="190.0,480.2 193.2,486.0 186.8,486.0" fill="#111"/><polygon points="198.6,482.6 201.8,488.4 195.4,488.4" fill="#111"/><polygon points="208.0,483.1 211.2,488.9 204.8,488.9" fill="#111"/><polygon points="217.3,482.1 220.5,487.9 214.1,487.9" fill="#111"/><polygon points="226.3,479.7 229.5,485.5 223.1,485.5" fill="#111"/><polygon points="235.4,475.8 238.6,481.6 232.2,481.6" fill="#111"/><polygon points="244.2,475.4 247.4,481.2 241.0,481.2" fill="#111"/><polygon points="253.4,474.8 256.6,480.6 250.2,480.6" fill="#111"/><polygon points="262.6,476.8 265.8,482.6 259.4,482.6" fill="#111"/><polygon points="271.7,466.3 274.9,472.1 268.5,472.1" fill="#111"/><polygon points="280.7,457.8 283.9,463.6 277.5,463.6" fill="#111"/><polygon points="289.7,461.7 292.9,467.5 286.5,467.5" fill="#111"/><polygon points="299.0,461.1 302.2,466.9 295.8,466.9" fill="#111"/><polygon points="308.2,451.1 311.4,456.9 305.0,456.9" fill="#111"/><rect x="45" y="407" width="216" height="45" fill="#fff"/><line x1="45" y1="407.5" x2="261" y2="407.5" stroke="#111" stroke-width="1" stroke-dasharray="2 1"/><line x1="45" y1="451.5" x2="261" y2="451.5" stroke="#111" stroke-width="1" stroke-dasharray="2 1"/><line x1="45.5" y1="407" x2="45.5" y2="452" stroke="#111" stroke-width="1" stroke-dasharray="2 1"/><line x1="260.5" y1="407" x2="260.5" y2="452" stroke="#111" stroke-width="1" stroke-dasharray="2 1"/><line x1="48" y1="420.5" x2="69.5" y2="420.5" stroke="#111" stroke-width="1"/><text x="72.8" y="418.9" font-size="8.4" fill="#6e6e6e">T</text><text x="77.8" y="423.4" font-size="5.8" fill="#6e6e6e" textLength="6.4" lengthAdjust="spacingAndGlyphs">41</text><text x="86.8" y="419.2" font-size="8.6" fill="#6e6e6e" textLength="71.8" lengthAdjust="spacingAndGlyphs">(DNS - full sample)</text><line x1="163" y1="420.5" x2="184.5" y2="420.5" stroke="#333" stroke-width="1" stroke-dasharray="4 5"/><text x="188.7" y="418.9" font-size="8.4" fill="#6e6e6e">T</text><text x="193.7" y="423.4" font-size="5.8" fill="#6e6e6e" textLength="6.4" lengthAdjust="spacingAndGlyphs">41</text><text x="201.8" y="419.2" font-size="8.6" fill="#6e6e6e" textLength="45.5" lengthAdjust="spacingAndGlyphs">(1/2 sample)</text><line x1="48" y1="443.5" x2="69.5" y2="443.5" stroke="#111" stroke-width="1"/><circle cx="58.5" cy="443.5" r="2.5" fill="#111"/><text x="72.8" y="443.7" font-size="8.4" fill="#6e6e6e">T</text><text x="77.8" y="448.2" font-size="5.8" fill="#6e6e6e" textLength="6.4" lengthAdjust="spacingAndGlyphs">42</text><text x="86.8" y="444" font-size="8.6" fill="#6e6e6e" textLength="71.8" lengthAdjust="spacingAndGlyphs">(DNS - full sample)</text><line x1="163" y1="443.5" x2="184.5" y2="443.5" stroke="#111" stroke-width="1"/><circle cx="173.7" cy="443.5" r="2.0" fill="#fff" stroke="#111" stroke-width="1.1"/><text x="188.7" y="443.7" font-size="8.4" fill="#6e6e6e">T</text><text x="193.7" y="448.2" font-size="5.8" fill="#6e6e6e" textLength="6.4" lengthAdjust="spacingAndGlyphs">42</text><text x="201.8" y="444" font-size="8.6" fill="#6e6e6e" textLength="45.5" lengthAdjust="spacingAndGlyphs">(1/2 sample)</text><rect x="45" y="501" width="216" height="24" fill="#fff"/><line x1="45" y1="501.5" x2="261" y2="501.5" stroke="#111" stroke-width="1" stroke-dasharray="2 1"/><line x1="45" y1="524.5" x2="261" y2="524.5" stroke="#111" stroke-width="1" stroke-dasharray="2 1"/><line x1="45.5" y1="501" x2="45.5" y2="525" stroke="#111" stroke-width="1" stroke-dasharray="2 1"/><line x1="260.5" y1="501" x2="260.5" y2="525" stroke="#111" stroke-width="1" stroke-dasharray="2 1"/><line x1="48" y1="514.3" x2="69.5" y2="514.3" stroke="#555" stroke-width="1"/><polygon points="58.5,511.1 61.2,516.0 55.8,516.0" fill="#111"/><text x="72.8" y="513.7" font-size="8.4" fill="#6e6e6e">T</text><text x="77.8" y="518.2" font-size="5.8" fill="#6e6e6e" textLength="6.4" lengthAdjust="spacingAndGlyphs">43</text><text x="86.8" y="514" font-size="8.6" fill="#6e6e6e" textLength="71.8" lengthAdjust="spacingAndGlyphs">(DNS - full sample)</text><line x1="163" y1="514.3" x2="184.5" y2="514.3" stroke="#555" stroke-width="1"/><polygon points="173.7,511.4 176.1,515.7 171.3,515.7" fill="#fff" stroke="#111" stroke-width="0.9"/><text x="188.7" y="513.7" font-size="8.4" fill="#6e6e6e">T</text><text x="193.7" y="518.2" font-size="5.8" fill="#6e6e6e" textLength="6.4" lengthAdjust="spacingAndGlyphs">43</text><text x="201.8" y="514" font-size="8.6" fill="#6e6e6e" textLength="45.5" lengthAdjust="spacingAndGlyphs">(1/2 sample)</text>
</svg>
</body></html>
